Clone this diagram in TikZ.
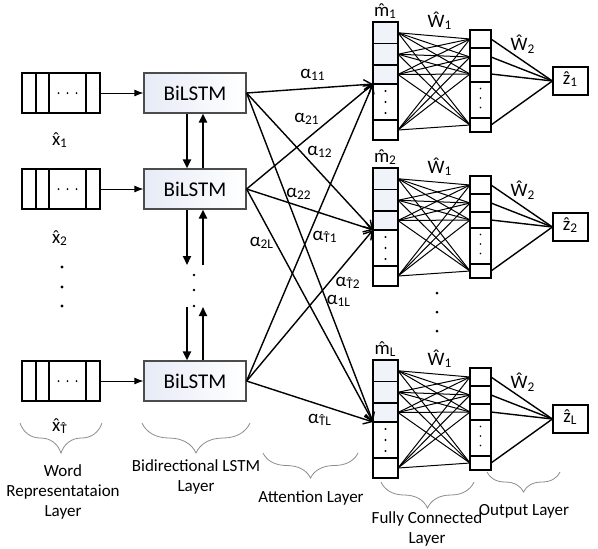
\documentclass[tikz,border=0pt]{standalone}
\usepackage{fontspec}
\setmainfont{Carlito}
\usetikzlibrary{arrows.meta,positioning,decorations.pathreplacing}
\definecolor{cellblue}{RGB}{230,235,246}
% circumflex set over a letter (the font has no combining hat)
\newcommand\hatlow[1]{\leavevmode\ooalign{#1\cr\hidewidth\char"02C6\hidewidth\cr}}
\newcommand\hatcap[1]{\leavevmode\ooalign{#1\cr\hidewidth\raisebox{0.2em}{\char"02C6}\hidewidth\cr}}
\tikzset{
		% Node styles: word vectors, BiLSTM cells, memory cells, hidden cells, outputs
		word node/.style={rectangle,draw,line width=0.6pt,inner sep=0,outer sep=0,minimum width=39pt,minimum height=20pt},
		lstm node/.style={rectangle,draw=black!70,line width=0.6pt,left color=cellblue,right color=white,minimum width=51pt,minimum height=20pt,font=\fontsize{10.5}{12}\selectfont},
		mem node/.style={rectangle,draw,line width=0.6pt,inner sep=0,outer sep=0,minimum width=12.5pt,fill=white},
		shaded node/.style={mem node,fill=cellblue!60},
		hid node/.style={rectangle,draw,line width=0.6pt,inner sep=0,outer sep=0,minimum width=10.5pt,fill=white},
		out node/.style={rectangle,draw,line width=0.6pt,minimum width=17.5pt,minimum height=14pt,inner sep=0,font=\fontsize{9.5}{11}\selectfont},
		math label/.style={inner sep=0,font=\fontsize{9.5}{11}\selectfont},
		layer label/.style={inner sep=0,align=center,font=\fontsize{8.5}{10}\selectfont}
	}
\begin{document}
\begin{tikzpicture}
		[
			x=0.5pt, y=-0.5pt,
			in arrow/.style={draw,line width=0.5pt,-{Latex[length=4.5pt,width=3.5pt]}},
			lstm arrow/.style={draw,line width=1pt,-{Triangle[length=4.5pt,width=4pt]}},
			att arrow/.style={draw,line width=0.7pt,-{Straight Barb[length=4pt,width=5pt]}},
			fc edge/.style={draw,line width=0.5pt},
			out edge/.style={draw,line width=0.7pt},
			layer brace/.style={draw=black!45,line width=0.4pt,decorate,decoration={brace,mirror,amplitude=#1}}
		]
		\useasboundingbox (0,0) rectangle (598,548);
		% word vectors and BiLSTM cells
		\foreach \i/\y in {1/93,2/189,T/381}{
			\node[word node] (in\i) at (61,\y) {};
			\draw[line width=0.6pt] (in\i.north west) ++(14,0) -- ++(0,40)
				(in\i.north west) ++(27,0) -- ++(0,40)
				(in\i.north west) ++(64,0) -- ++(0,40);
			\foreach \d in {-1,0,1} \fill (in\i.center) ++(6.5+\d*9,0) circle (1);
			\node[lstm node] (b\i) at (195,\y) {BiLSTM};
			\draw[in arrow] (in\i) -- (b\i);
		}
		\node[math label] (x1) at (60,142) {\hatlow{x}\textsubscript{1}};
		\node[math label] (x2) at (60,240) {\hatlow{x}\textsubscript{2}};
		\node[math label] (xT) at (60,428) {\hatlow{x}\textsubscript{\hatcap{T}}};
		\foreach \y in {267,287,306} \fill (62,\y) circle (1.6);
		% links between the BiLSTM cells
		\coordinate (gap top) at (195,265);
		\coordinate (gap bot) at (195,307);
		\draw[lstm arrow] ([xshift=-4pt]b1.south) -- ([xshift=-4pt]b2.north);
		\draw[lstm arrow] ([xshift=4pt]b2.north) -- ([xshift=4pt]b1.south);
		\draw[lstm arrow] ([xshift=-4pt]b2.south) -- ([xshift=-4pt]gap top);
		\draw[lstm arrow] ([xshift=4pt]gap top) -- ([xshift=4pt]b2.south);
		\draw[lstm arrow] ([xshift=-4pt]gap bot) -- ([xshift=-4pt]bT.north);
		\draw[lstm arrow] ([xshift=4pt]bT.north) -- ([xshift=4pt]gap bot);
		\foreach \y in {275,290,306} \fill (194,\y) circle (1.3);
		% memory, hidden and output columns
		\foreach \k/\t in {1/22,2/168,L/360}{
			\node[shaded node,minimum height=10.75pt,anchor=north] (m\k-1) at (385.5,\t) {};
			\node[shaded node,minimum height=10.75pt,anchor=north] (m\k-2) at (m\k-1.south) {};
			\node[shaded node,minimum height=9.5pt,anchor=north] (m\k-3) at (m\k-2.south) {};
			\node[mem node,minimum height=18pt,anchor=north] (m\k-4) at (m\k-3.south) {};
			\node[mem node,minimum height=10pt,anchor=north] (m\k-5) at (m\k-4.south) {};
			\node[hid node,minimum height=9pt,anchor=north] (h\k-1) at (480.5,\t+8) {};
			\node[hid node,minimum height=9pt,anchor=north] (h\k-2) at (h\k-1.south) {};
			\node[hid node,minimum height=8pt,anchor=north] (h\k-3) at (h\k-2.south) {};
			\node[hid node,minimum height=18pt,anchor=north] (h\k-4) at (h\k-3.south) {};
			\node[hid node,minimum height=7pt,anchor=north] (h\k-5) at (h\k-4.south) {};
			\node[out node] (z\k) at (570.5,\t+59) {\hatlow{z}\textsubscript{\k}};
			\foreach \a in {1,2,3,5}{
				\foreach \b in {1,2,3,5} \draw[fc edge] (m\k-\a.east) -- (h\k-\b.west);
				\draw[out edge] (h\k-\a.east) -- (z\k.west);
			}
			\foreach \d in {-1,0,1} \fill (m\k-4.center) ++(0,\d*11) circle (1.1);
			\foreach \d in {-1,0,1} \fill (h\k-4.center) ++(0,\d*9.5-2) circle (0.9);
			\node[math label,above=1.5pt of m\k-1] (mlab\k) {\hatlow{m}\textsubscript{\k}};
			\node[math label] (wa\k) at (440,\t-1) {\^W\textsubscript{1}};
			\node[math label] (wb\k) at (523,\t+22) {\^W\textsubscript{2}};
		}
		\foreach \y in {293,312,331} \fill (437,\y) circle (1.5);
		% attention weights
		\foreach \i in {1,2,T}
			\foreach \k in {1,2,L}
				\draw[att arrow] (b\i.east) -- (m\k-4.north west);
		\node[math label] (a11) at (313,75) {α\textsubscript{11}};
		\node[math label] (a21) at (307,119) {α\textsubscript{21}};
		\node[math label] (a12) at (320,152) {α\textsubscript{12}};
		\node[math label] (a22) at (299,194) {α\textsubscript{22}};
		\node[math label] (a2L) at (262,243) {α\textsubscript{2L}};
		\node[math label] (aT1) at (325,237) {α\textsubscript{\hatcap{T}1}};
		\node[math label] (aT2) at (348,283) {α\textsubscript{\hatcap{T}2}};
		\node[math label] (a1L) at (339,301) {α\textsubscript{1L}};
		\node[math label] (aTL) at (320,420) {α\textsubscript{\hatcap{T}L}};
		% layer braces
		\draw[layer brace=15pt] (20,423) -- (102,423);
		\node[layer label] (wordlab) at (63,492) {Word\\Representataion\\Layer};
		\draw[layer brace=15pt] (142,423) -- (250,423);
		\node[layer label] (bidirlab) at (196,477) {Bidirectional LSTM\\Layer};
		\draw[layer brace=12.5pt] (263,453) -- (358,453);
		\node[layer label] (attlab) at (311,498) {Attention Layer};
		\draw[layer brace=13pt] (381,482) -- (474,482);
		\node[layer label] (fclab) at (427,529) {Fully Connected\\Layer};
		\draw[layer brace=10pt] (487,472) -- (560,472);
		\node[layer label] (outlab) at (524,511) {Output Layer};
	\end{tikzpicture}
\end{document}
